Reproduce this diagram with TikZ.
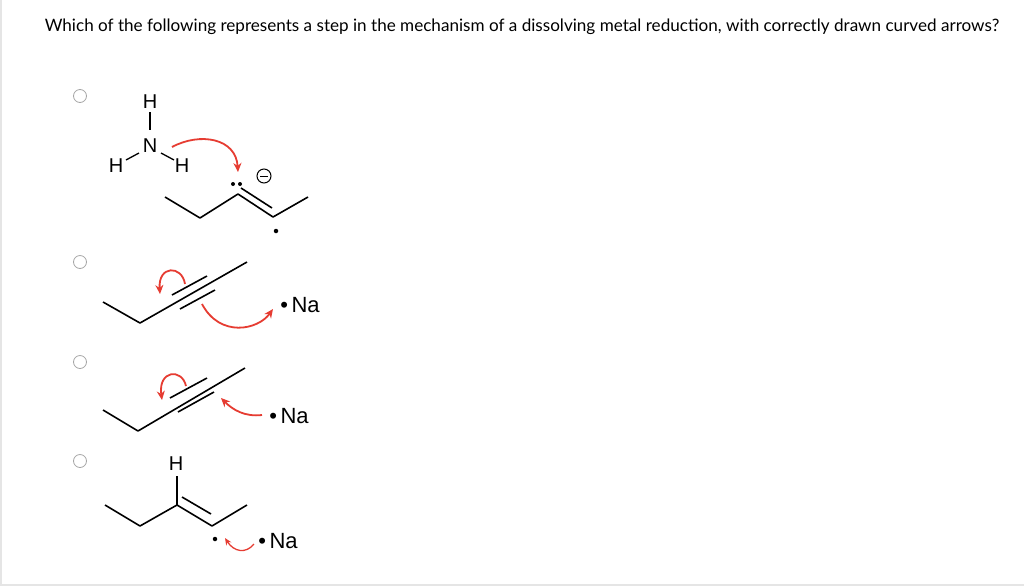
\documentclass[tikz,border=0pt]{standalone}
\usepackage{fontspec}
\setmainfont{Lato}
\newfontfamily\chem{Liberation Sans}
\usetikzlibrary{arrows.meta}
\tikzset{
 bond/.style={line width=1.6pt,line join=round},
 rarr/.style={draw={rgb,255:red,230;green,60;blue,50},line width=1.8pt,-{Stealth[length=9pt,width=8pt]}},
 opt/.style={circle,draw=gray!70,line width=0.8pt,minimum size=13pt,inner sep=0pt},
 lab/.style={font=\chem\fontsize{20}{20}\selectfont,inner sep=0pt},
 nalab/.style={font=\chem\fontsize{22}{22}\selectfont,inner sep=0pt},
 dotn/.style={circle,fill=black,inner sep=0pt,minimum size=4.5pt}
}
\begin{document}
\begin{tikzpicture}[x=1pt,y=-1pt]
\useasboundingbox (0,0) rectangle (1024,587);
\fill[white] (0,0) rectangle (1024,587);
\draw[gray!20,line width=1.5pt] (1,0) -- (1,585) -- (1024,585);
\node[font=\fontsize{17.1}{18}\selectfont,inner sep=0pt] (q) at (522,27) {Which of the following represents a step in the mechanism of a dissolving metal reduction, with correctly drawn curved arrows?};
% option 1
\node[opt] (o1) at (80,96) {};
\node[lab] (h1) at (150,102) {H};
\node[lab] (n1) at (150,146) {N};
\node[lab] (h2) at (116,166) {H};
\node[lab] (h3) at (182,166) {H};
\draw[line width=1.3pt] (150,112) -- (150,130);
\draw[line width=1.3pt] (126,160) -- (139,153);
\draw[line width=1.3pt] (161,153) -- (174,160);
\coordinate (a1) at (165,197); \coordinate (a2) at (200,218); \coordinate (a3) at (238,194);
\coordinate (a4) at (273,217); \coordinate (a5) at (308,197);
\draw[bond] (a1)--(a2)--(a3)--(a4)--(a5);
\draw[bond] (241,188) -- (272,208);
\node[dotn] (d1) at (276,231) {};
\node[dotn,minimum size=4pt] (lp1) at (233,184) {};
\node[dotn,minimum size=4pt] (lp2) at (240,184) {};
\node[circle,draw,line width=1pt,minimum size=14pt,inner sep=0pt] (m1) at (264,176) {};
\draw[line width=1pt] (260,176) -- (268,176);
\draw[rarr] (172,147) .. controls (200,132) and (236,138) .. (238,172);
% option 2
\node[opt] (o2) at (80,262) {};
\coordinate (b1) at (103,302); \coordinate (b2) at (140,323); \coordinate (b3) at (247,262);
\draw[bond] (b1)--(b2)--(b3);
\draw[bond] (172,295) -- (207,276);
\draw[bond] (180,309) -- (215,290);
\node[nalab] (na2) at (300,305) {\textbullet\,Na};
\draw[rarr] (185,284) .. controls (182,265) and (158,265) .. (160,294);
\draw[rarr] (202,304) .. controls (220,338) and (258,330) .. (273,309);
% option 3
\node[opt] (o3) at (80,362) {};
\coordinate (c1) at (103,410); \coordinate (c2) at (138,431); \coordinate (c3) at (245,368);
\draw[bond] (c1)--(c2)--(c3);
\draw[bond] (170,398) -- (207,378);
\draw[bond] (178,412) -- (214,392);
\node[nalab] (na3) at (289,416) {\textbullet\,Na};
\draw[rarr] (186,386) .. controls (182,368) and (158,370) .. (162,400);
\draw[rarr] (262,415) .. controls (245,417) and (233,410) .. (221,398);
% option 4
\node[opt] (o4) at (80,461) {};
\node[lab] (h4) at (176,464) {H};
\coordinate (e1) at (105,505); \coordinate (e2) at (140,526); \coordinate (e3) at (177,505);
\coordinate (e4) at (212,526); \coordinate (e5) at (247,505);
\draw[bond] (e1)--(e2)--(e3)--(e4)--(e5);
\draw[bond] (177,476) -- (e3);
\draw[bond] (182,497) -- (211,514);
\node[dotn] (d4) at (215,539) {};
\node[nalab] (na4) at (278,541) {\textbullet\,Na};
\draw[rarr,line width=1.3pt,-{Stealth[length=7pt,width=6pt]}] (254,544) .. controls (246,554) and (234,552) .. (225,538);
\end{tikzpicture}
\end{document}
